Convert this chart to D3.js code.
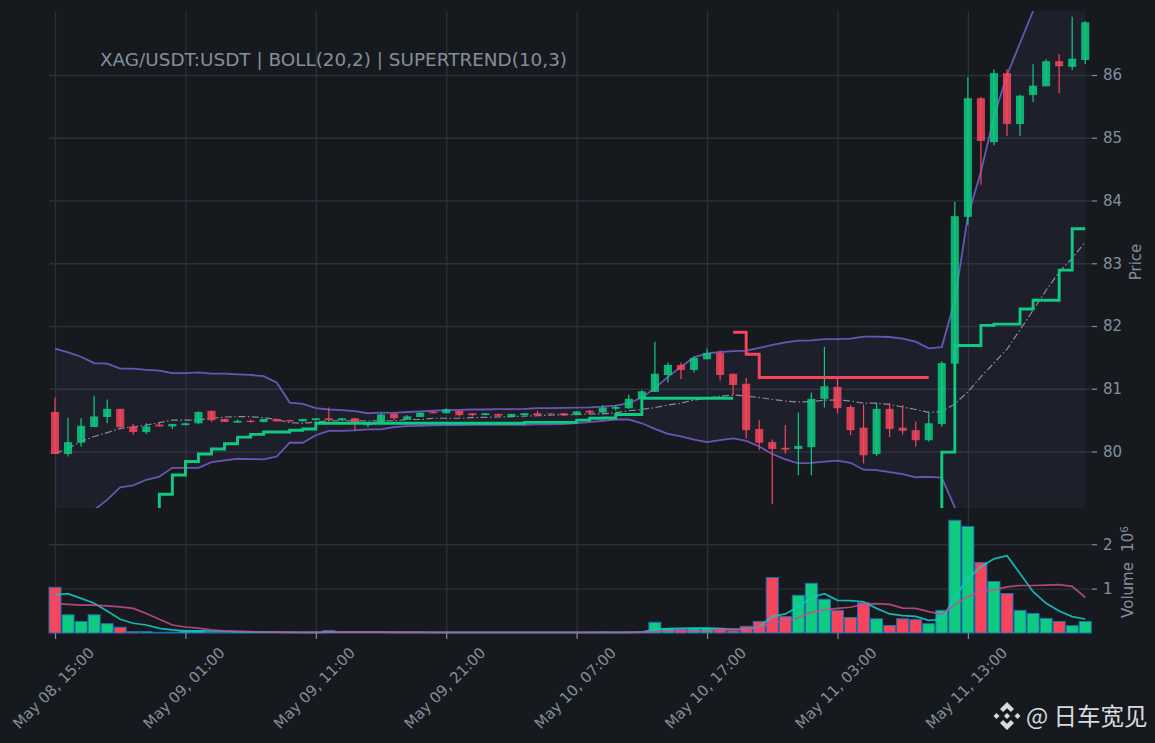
<!DOCTYPE html>
<html>
<head>
<meta charset="utf-8">
<script src="https://cdn.jsdelivr.net/npm/d3@7"></script>
<style>
  html, body { margin: 0; padding: 0; background: #161a1e; overflow: hidden; }
  svg { display: block; font-family: "DejaVu Sans", sans-serif; }
</style>
</head>
<body>
<div id="chart"></div>
<script>
// Hourly candles, values
const startTime = Date.UTC(2026, 4, 8, 15);
const tickIndexes = [0, 10, 20, 30, 40, 50, 60, 70];
const priceTicks = [80, 81, 82, 83, 84, 85, 86];
const volumeTicks = [1, 2];

const opens = [80.63,79.96,80.14,80.39,80.55,80.68,80.40,80.31,80.43,80.40,
  80.42,80.45,80.65,80.52,80.46,80.49,80.47,80.52,80.50,80.48,
  80.50,80.53,80.50,80.53,80.42,80.46,80.60,80.51,80.55,80.63,
  80.61,80.65,80.61,80.58,80.60,80.55,80.58,80.61,80.61,80.61,
  80.58,80.65,80.62,80.68,80.69,80.84,80.95,81.22,81.38,81.30,
  81.47,81.57,81.24,81.08,80.36,80.15,80.06,80.04,80.07,80.84,
  81.03,80.71,80.38,79.96,80.68,80.38,80.34,80.18,80.44,81.40,
  83.74,85.63,84.93,86.03,85.22,85.68,85.82,86.22,86.13,86.24];
const closes = [79.96,80.15,80.41,80.56,80.68,80.39,80.31,80.40,80.40,80.44,
  80.45,80.63,80.50,80.47,80.49,80.47,80.52,80.48,80.48,80.52,
  80.53,80.50,80.53,80.46,80.45,80.59,80.53,80.56,80.62,80.61,
  80.67,80.58,80.58,80.61,80.57,80.60,80.61,80.58,80.60,80.58,
  80.64,80.62,80.70,80.71,80.84,80.96,81.24,81.38,81.30,81.49,
  81.57,81.22,81.06,80.34,80.14,80.04,80.03,80.09,80.84,81.04,
  80.69,80.34,79.94,80.68,80.36,80.33,80.18,80.45,81.41,83.75,
  85.63,84.95,86.03,85.22,85.67,85.83,86.22,86.14,86.26,86.84];
const highs = [80.86,80.54,80.53,80.89,80.83,80.68,80.44,80.45,80.46,80.44,
  80.46,80.64,80.65,80.52,80.51,80.51,80.52,80.52,80.51,80.52,
  80.53,80.70,80.53,80.53,80.45,80.60,80.62,80.58,80.63,80.64,
  80.69,80.65,80.61,80.61,80.60,80.60,80.61,80.65,80.61,80.61,
  80.64,80.66,80.74,80.74,80.91,80.98,81.75,81.42,81.42,81.52,
  81.64,81.61,81.24,81.17,80.50,80.19,80.42,80.62,80.94,81.67,
  81.17,80.74,80.75,80.78,80.77,80.74,80.48,80.61,81.44,83.98,
  85.97,85.65,86.09,86.09,85.69,86.17,86.25,86.33,86.93,86.86];
const lows = [79.96,79.92,80.08,80.39,80.45,80.35,80.27,80.28,80.40,80.36,
  80.42,80.44,80.47,80.47,80.46,80.46,80.47,80.48,80.48,80.48,
  80.50,80.49,80.50,80.34,80.39,80.46,80.50,80.51,80.55,80.61,
  80.61,80.56,80.56,80.58,80.56,80.55,80.58,80.57,80.58,80.57,
  80.58,80.59,80.61,80.65,80.68,80.84,80.95,81.10,81.15,81.26,
  81.47,81.13,80.90,80.21,80.02,79.16,79.97,79.62,79.62,80.70,
  80.61,80.26,79.81,79.93,80.23,80.27,80.08,80.16,80.40,81.40,
  83.61,84.25,84.88,85.03,85.03,85.57,85.82,85.71,86.08,86.17];

// Bollinger bands (the top and bottom ends run off the panel)
const bollUpper = [81.64,81.58,81.51,81.41,81.40,81.32,81.32,81.30,81.29,81.25,
  81.25,81.26,81.24,81.24,81.23,81.22,81.20,81.10,80.78,80.76,
  80.69,80.67,80.66,80.645,80.61,80.62,80.615,80.63,80.64,80.65,
  80.66,80.665,80.67,80.67,80.675,80.675,80.68,80.69,80.69,80.695,
  80.70,80.705,80.715,80.73,80.77,80.86,81.01,81.19,81.35,81.50,
  81.565,81.586,81.60,81.607,81.65,81.70,81.74,81.767,81.77,81.79,
  81.79,81.80,81.83,81.83,81.825,81.80,81.75,81.645,81.665,82.41,
  83.75,84.46,85.34,86.00,86.51,87.02,87.50,87.90,88.20,88.50];
const bollMid = [79.97,80.05,80.16,80.24,80.30,80.37,80.39,80.42,80.46,80.50,
  80.50,80.50,80.53,80.55,80.555,80.555,80.54,80.51,80.46,80.45,
  80.47,80.49,80.49,80.49,80.49,80.49,80.49,80.51,80.51,80.53,
  80.53,80.53,80.54,80.545,80.55,80.555,80.565,80.57,80.58,80.585,
  80.59,80.60,80.60,80.62,80.65,80.67,80.70,80.74,80.77,80.82,
  80.85,80.88,80.90,80.885,80.86,80.83,80.805,80.79,80.795,80.82,
  80.82,80.805,80.77,80.77,80.75,80.71,80.67,80.625,80.635,80.76,
  80.95,81.19,81.41,81.63,81.94,82.25,82.57,82.86,83.08,83.34];
const bollLower = [78.30,78.52,78.81,79.07,79.23,79.43,79.46,79.55,79.60,79.74,
  79.74,79.74,79.83,79.86,79.885,79.88,79.875,79.92,80.14,80.14,
  80.26,80.33,80.33,80.337,80.353,80.353,80.39,80.406,80.41,80.417,
  80.42,80.42,80.427,80.427,80.427,80.427,80.427,80.433,80.433,80.438,
  80.454,80.47,80.49,80.51,80.51,80.45,80.36,80.28,80.24,80.19,
  80.15,80.18,80.21,80.17,80.08,79.96,79.875,79.81,79.82,79.84,
  79.855,79.82,79.71,79.705,79.67,79.64,79.59,79.595,79.585,79.11,
  78.15,77.92,77.48,77.26,77.37,77.48,77.64,77.82,77.96,78.18];

// Supertrend, null where the other direction is active
const superUp = [null,null,null,null,null,null,null,78.90,79.32,79.625,
  79.84,79.96,80.04,80.125,80.23,80.274,80.31,80.31,80.34,80.36,
  80.45,80.45,80.45,80.45,80.45,80.45,80.45,80.45,80.45,80.45,
  80.45,80.45,80.45,80.45,80.45,80.45,80.465,80.465,80.465,80.465,
  80.50,80.53,80.534,80.59,80.59,80.85,80.85,80.85,80.85,80.85,
  80.85,80.85,80.85,null,null,null,null,null,null,null,
  null,null,null,null,null,null,null,78.90,79.99,81.69,
  81.69,82.01,82.03,82.03,82.27,82.41,82.41,82.89,83.55,83.55];
const superDown = [null,null,null,null,null,null,null,null,null,null,
  null,null,null,null,null,null,null,null,null,null,
  null,null,null,null,null,null,null,null,null,null,
  null,null,null,null,null,null,null,null,null,null,
  null,null,null,null,null,null,null,null,null,null,
  null,null,81.90,81.55,81.18,81.18,81.18,81.18,81.18,81.18,
  81.18,81.18,81.18,81.18,81.18,81.18,81.18,81.18,null,null,
  null,null,null,null,null,null,null,null,null,null];

// Volume in millions
const volumes = [1.03,0.41,0.26,0.41,0.21,0.13,0.03,0.03,0.015,0.02,
  0.045,0.05,0.02,0.015,0.01,0.012,0.015,0.012,0.01,0.012,
  0.015,0.055,0.012,0.02,0.01,0.02,0.015,0.012,0.012,0.01,
  0.012,0.01,0.01,0.01,0.01,0.012,0.012,0.012,0.01,0.01,
  0.012,0.012,0.02,0.015,0.02,0.03,0.24,0.10,0.09,0.105,
  0.11,0.105,0.05,0.15,0.26,1.25,0.37,0.85,1.12,0.76,
  0.51,0.35,0.68,0.32,0.17,0.32,0.30,0.21,0.51,2.54,
  2.40,1.59,1.16,0.89,0.51,0.44,0.33,0.26,0.165,0.26];
const volumeFast = [0.86,0.885,0.78,0.67,0.495,0.31,0.22,0.18,0.105,0.07,
  0.05,0.05,0.045,0.04,0.03,0.025,0.02,0.02,0.015,0.015,
  0.015,0.02,0.02,0.02,0.02,0.02,0.015,0.015,0.015,0.015,
  0.012,0.012,0.012,0.012,0.012,0.012,0.012,0.012,0.012,0.012,
  0.012,0.012,0.012,0.015,0.015,0.02,0.08,0.10,0.105,0.11,
  0.11,0.10,0.08,0.09,0.13,0.37,0.43,0.59,0.80,0.885,
  0.735,0.73,0.705,0.555,0.43,0.39,0.375,0.285,0.31,0.80,
  1.23,1.49,1.67,1.74,1.34,0.93,0.67,0.495,0.37,0.315];
const volumeSlow = [0.66,0.645,0.63,0.63,0.61,0.59,0.555,0.44,0.31,0.18,
  0.135,0.11,0.07,0.05,0.04,0.03,0.025,0.02,0.02,0.015,
  0.015,0.02,0.02,0.02,0.02,0.02,0.018,0.018,0.018,0.015,
  0.015,0.012,0.012,0.012,0.012,0.012,0.012,0.012,0.012,0.012,
  0.012,0.012,0.012,0.012,0.015,0.02,0.03,0.05,0.05,0.05,
  0.05,0.08,0.08,0.09,0.11,0.23,0.255,0.35,0.465,0.52,
  0.555,0.58,0.645,0.66,0.645,0.56,0.555,0.48,0.42,0.64,
  0.82,0.945,0.97,1.04,1.07,1.07,1.08,1.09,1.05,0.80];

const titleText = "XAG/USDT:USDT | BOLL(20,2) | SUPERTREND(10,3)";
const watermarkText = "@ 日车宽见";

const indexes = d3.range(opens.length);
const width = 1155, height = 743;
const left = 49, right = 1091.5;
const priceTop = 11, priceBottom = 508, volumeTop = 514.5, volumeBottom = 633;

const colors = {
  up: "#0ecb81", down: "#f6465d", grid: "#2c3037", tick: "#848e9c",
  boll: "#6a55b4", mid: "#8c8a9e", fast: "#14c8c8", slow: "#c4508f"
};

const x = d3.scaleLinear().domain([-0.46, 79.48]).range([left, right]);
const y = d3.scaleLinear().domain([79.1, 87.02]).range([priceBottom, priceTop]);
const yVol = d3.scaleLinear().domain([0, 2.67]).range([volumeBottom, volumeTop]);

const svg = d3.select("#chart").append("svg")
    .attr("width", width)
    .attr("height", height)
    .style("background", "#161a1e");

const defs = svg.append("defs");
defs.append("clipPath").attr("id", "clip-price").append("rect")
    .attr("x", left).attr("y", priceTop)
    .attr("width", right - left).attr("height", priceBottom - priceTop);

// Grid lines, drawn with the axis generators
const styleGrid = g => {
  g.select(".domain").remove();
  g.selectAll("text").remove();
  g.selectAll("line").attr("stroke", colors.grid).attr("stroke-width", 1.3);
};
svg.append("g").attr("transform", `translate(0,${priceBottom})`)
    .call(d3.axisTop(x).tickValues(tickIndexes).tickSize(priceBottom - priceTop)).call(styleGrid);
svg.append("g").attr("transform", `translate(0,${volumeBottom})`)
    .call(d3.axisTop(x).tickValues(tickIndexes).tickSize(volumeBottom - priceBottom)).call(styleGrid);
svg.append("g").attr("transform", `translate(${left},0)`)
    .call(d3.axisRight(y).tickValues(priceTicks).tickSize(right - left)).call(styleGrid);
svg.append("g").attr("transform", `translate(${left},0)`)
    .call(d3.axisRight(yVol).tickValues(volumeTicks).tickSize(right - left)).call(styleGrid);

/////// PRICE PANEL ///////
const price = svg.append("g").attr("clip-path", "url(#clip-price)");

price.append("path")
    .datum(indexes)
    .attr("fill", "#7a63d8")
    .attr("fill-opacity", 0.075)
    .attr("d", d3.area().x(i => x(i)).y0(i => y(bollLower[i])).y1(i => y(bollUpper[i])));

const lineOf = (values, scale) => d3.line()
    .defined(i => values[i] !== null)
    .x(i => x(i))
    .y(i => scale(values[i]));

price.append("path").datum(indexes)
    .attr("fill", "none").attr("stroke", colors.mid).attr("stroke-width", 1.2)
    .attr("stroke-dasharray", "7 2.5 1.5 2.5")
    .attr("d", lineOf(bollMid, y));
[bollUpper, bollLower].forEach(band => {
  price.append("path").datum(indexes)
      .attr("fill", "none").attr("stroke", colors.boll).attr("stroke-width", 1.8)
      .attr("d", lineOf(band, y));
});

const candleColor = i => closes[i] >= opens[i] ? colors.up : colors.down;

price.selectAll(".wick").data(indexes).enter().append("line")
    .attr("class", "wick")
    .attr("x1", i => x(i)).attr("x2", i => x(i))
    .attr("y1", i => y(highs[i])).attr("y2", i => y(lows[i]))
    .attr("stroke", candleColor).attr("stroke-width", 1.2);
price.selectAll(".body").data(indexes).enter().append("rect")
    .attr("class", "body")
    .attr("x", i => x(i - 0.31))
    .attr("width", x(0.62) - x(0))
    .attr("y", i => y(Math.max(opens[i], closes[i])))
    .attr("height", i => Math.abs(y(opens[i]) - y(closes[i])))
    .attr("fill", candleColor)
    .attr("fill-opacity", 0.85);

// Supertrend steps sit on top of the candles
[[superUp, colors.up], [superDown, colors.down]].forEach(([values, color]) => {
  price.append("path").datum(indexes)
      .attr("fill", "none").attr("stroke", color).attr("stroke-width", 2.9)
      .attr("d", lineOf(values, y).curve(d3.curveStepAfter));
});

/////// VOLUME PANEL ///////
svg.selectAll(".vol").data(indexes).enter().append("rect")
    .attr("class", "vol")
    .attr("x", i => x(i - 0.46))
    .attr("width", x(0.92) - x(0))
    .attr("y", i => yVol(volumes[i]))
    .attr("height", i => yVol(0) - yVol(volumes[i]))
    .attr("fill", candleColor)
    .attr("stroke", "#1f6fb4")
    .attr("stroke-width", 1);

svg.append("path").datum(indexes)
    .attr("fill", "none").attr("stroke", colors.fast).attr("stroke-width", 1.7).attr("stroke-opacity", 0.9)
    .attr("d", lineOf(volumeFast, yVol));
svg.append("path").datum(indexes)
    .attr("fill", "none").attr("stroke", colors.slow).attr("stroke-width", 1.7).attr("stroke-opacity", 0.85)
    .attr("d", lineOf(volumeSlow, yVol));

/////// AXES ///////
const styleAxis = g => {
  g.select(".domain").remove();
  g.selectAll("line").attr("stroke", colors.tick).attr("stroke-width", 1.2);
  g.selectAll("text").attr("fill", colors.tick).style("font-size", "15px")
      .style("font-family", '"DejaVu Sans", sans-serif');
};
const rightX = 1092;
svg.append("g").attr("transform", `translate(${rightX},0)`)
    .call(d3.axisRight(y).tickValues(priceTicks).tickSize(5).tickPadding(6).tickFormat(d3.format("d"))).call(styleAxis);
svg.append("g").attr("transform", `translate(${rightX},0)`)
    .call(d3.axisRight(yVol).tickValues(volumeTicks).tickSize(5).tickPadding(6).tickFormat(d3.format("d"))).call(styleAxis);

const timeFormat = d3.utcFormat("%b %d, %H:00");
svg.append("g").attr("transform", `translate(0,${volumeBottom})`)
    .call(d3.axisBottom(x).tickValues(tickIndexes).tickSize(6)
      .tickFormat(i => timeFormat(new Date(startTime + i * 3600000))))
    .call(styleAxis)
    .selectAll("text")
      .attr("text-anchor", "middle")
      .attr("x", 0)
      .attr("y", 0)
      .attr("dy", "0.35em")
      .attr("transform", "translate(-2,55) rotate(-45)");

const sideLabel = (text, lx, ly, size) => svg.append("text")
    .attr("transform", `translate(${lx},${ly}) rotate(-90)`)
    .attr("text-anchor", "middle")
    .attr("fill", colors.tick)
    .style("font-size", `${size}px`)
    .text(text);
sideLabel("Price", 1141, 262, 15);
sideLabel("Volume", 1133, 590, 15);
const exponent = sideLabel("10", 1133, 539, 15);
exponent.append("tspan").attr("dy", -5).style("font-size", "10.5px").text("6");

svg.append("text")
    .attr("x", 100).attr("y", 66)
    .attr("fill", colors.tick)
    .style("font-size", "18.4px")
    .text(titleText);

/////// WATERMARK ///////
const mark = svg.append("g").attr("transform", "translate(1007,716)").attr("fill", "#d8dadd");
mark.append("path").attr("d", "M0,-14L7,-7L3.9,-3.9L0,-7.8L-3.9,-3.9L-7,-7Z");
mark.append("path").attr("d", "M0,14L7,7L3.9,3.9L0,7.8L-3.9,3.9L-7,7Z");
mark.append("path").attr("d", "M0,-3L3,0L0,3L-3,0Z");
mark.append("path").attr("d", "M-10.5,-3L-7.5,0L-10.5,3L-13.5,0Z");
mark.append("path").attr("d", "M10.5,-3L13.5,0L10.5,3L7.5,0Z");
svg.append("text")
    .attr("x", 1026).attr("y", 725)
    .attr("fill", "#d8dadd")
    .style("font-family", '"Noto Sans CJK SC", "Noto Sans", sans-serif')
    .style("font-size", "23.5px")
    .text(watermarkText);
</script>
</body>
</html>
